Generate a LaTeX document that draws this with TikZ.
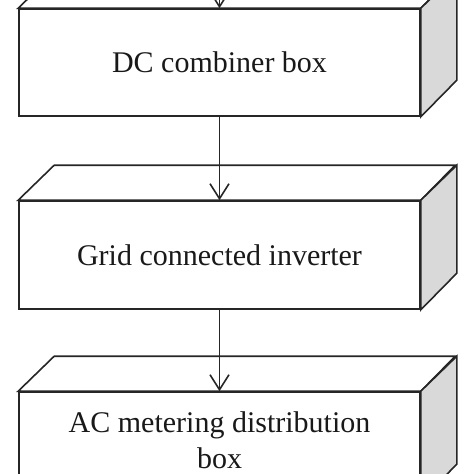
\documentclass[tikz,border=0pt]{standalone}
\usepackage{fontspec}
\setmainfont{Liberation Serif}
\usetikzlibrary{arrows.meta}
\begin{document}
\begin{tikzpicture}[x=1pt,y=-1pt,
  line width=1.6pt,
  frontbox/.style={draw=black!85, fill=white, minimum width=401pt, minimum height=107pt,
    inner sep=0pt, align=center, font=\fontsize{30}{36}\selectfont, text=black!90},
  topface/.style={draw=black!85, fill=white, line join=miter},
  sideface/.style={draw=black!85, fill=black!15, line join=miter},
  arr/.style={draw=black!85, -{Straight Barb[length=15pt,width=19pt,line width=1.6pt]}}]
\clip (0,0) rectangle (474,474);
\useasboundingbox (0,0) rectangle (474,474);
% box 1
\node[frontbox] (b1) at (219.5,62.5) {DC combiner box};
\filldraw[topface] (b1.north west) -- ++(36,-35) -- ++(401,0) -- (b1.north east) -- cycle;
\filldraw[sideface] (b1.north east) -- ++(36,-35) -- ++(0,107) -- (b1.south east) -- cycle;
% box 2
\node[frontbox, minimum height=108pt] (b2) at (219.5,255) {Grid connected inverter};
\filldraw[topface] (b2.north west) -- ++(36,-35) -- ++(401,0) -- (b2.north east) -- cycle;
\filldraw[sideface] (b2.north east) -- ++(36,-35) -- ++(0,108) -- (b2.south east) -- cycle;
% box 3
\node[frontbox, minimum height=108pt] (b3) at (219.5,446) {};
\filldraw[topface] (b3.north west) -- ++(36,-35) -- ++(401,0) -- (b3.north east) -- cycle;
\filldraw[sideface] (b3.north east) -- ++(36,-35) -- ++(0,108) -- (b3.south east) -- cycle;
\node[font=\fontsize{30}{36}\selectfont, text=black!90, align=center, anchor=base, inner sep=0pt] (t3) at (219.5,468) {AC metering distribution\\box};
% arrows
\coordinate (top) at (219.5,-20);
\draw[arr] (top) -- (b1.north);
\draw[arr] (b1.south) -- (b2.north);
\draw[arr] (b2.south) -- (b3.north);
\end{tikzpicture}
\end{document}
